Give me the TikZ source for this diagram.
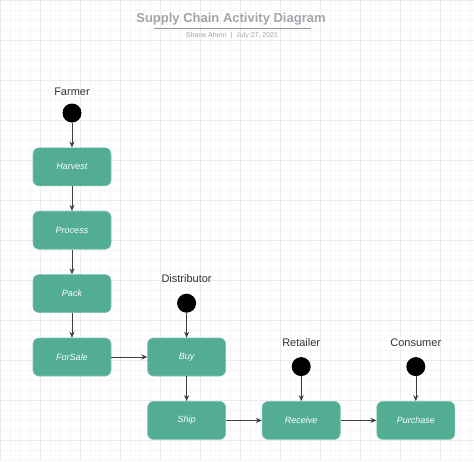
\documentclass[tikz,border=0pt]{standalone}
\usepackage{fontspec}
\setmainfont{Liberation Sans}
\usetikzlibrary{arrows.meta,positioning}
\definecolor{actgreen}{HTML}{52AD94}
\definecolor{titlegray}{HTML}{A2A5AA}
\tikzset{
  activity/.style={draw=actgreen!75!white, fill=actgreen, line width=0.6pt, rounded corners=6pt, minimum width=78pt, minimum height=38pt, align=center, text=white, font=\itshape\fontsize{9}{10}\selectfont},
  initial/.style={circle, fill=black, minimum size=19pt, inner sep=0pt},
  lane/.style={text=black!80, font=\fontsize{11}{13}\selectfont},
  flow/.style={-{Stealth[length=6pt,width=5pt]}, line width=0.6pt, draw=black!75}
}

\begin{document}
\begin{tikzpicture}[x=1pt, y=1pt, node distance=24.8pt and 36pt]
  \useasboundingbox (0,0) rectangle (474,-461);
  \fill[white] (0,0) rectangle (474,-461);
  \draw[step=10pt, black!4, line width=0.4pt] (0,0) grid (474,-461);
  \draw[step=40pt, black!8, line width=0.5pt] (0,0) grid (474,-461);

  % title
  \node[text=titlegray, font=\bfseries\fontsize{13}{15}\selectfont] (title) at (231,-19) {Supply Chain Activity Diagram};
  \draw[titlegray!90!black, line width=0.7pt] (154,-28) -- (311,-28);
  \node[text=titlegray, font=\fontsize{7}{8}\selectfont] (subtitle) at (232,-35.5) {Shane Ahern \ | \ July 27, 2021};

  % farmer
  \node[initial] (farmer0) at (72,-113) {};
  \node[lane, above=4pt of farmer0] (farmer) {Farmer};
  \node[activity, below=of farmer0] (harvest) {Harvest};
  \node[activity, below=of harvest] (process) {Process};
  \node[activity, below=of process] (pack) {Pack};
  \node[activity, below=of pack] (forsale) {ForSale};

  % distributor
  \node[activity, right=of forsale] (buy) {Buy};
  \node[activity, below=of buy] (ship) {Ship};
  \node[initial, above=of buy] (distributor0) {};
  \node[lane, above=7pt of distributor0] (distributor) {Distributor};

  % retailer and consumer
  \node[activity, right=of ship] (receive) {Receive};
  \node[activity, right=of receive] (purchase) {Purchase};
  \node[initial, above=of receive] (retailer0) {};
  \node[lane, above=7pt of retailer0] (retailer) {Retailer};
  \node[initial, above=of purchase] (consumer0) {};
  \node[lane, above=7pt of consumer0] (consumer) {Consumer};

  \draw[flow] (farmer0) -- (harvest);
  \draw[flow] (harvest) -- (process);
  \draw[flow] (process) -- (pack);
  \draw[flow] (pack) -- (forsale);
  \draw[flow] (forsale) -- (buy);
  \draw[flow] (distributor0) -- (buy);
  \draw[flow] (buy) -- (ship);
  \draw[flow] (ship) -- (receive);
  \draw[flow] (retailer0) -- (receive);
  \draw[flow] (receive) -- (purchase);
  \draw[flow] (consumer0) -- (purchase);
\end{tikzpicture}
\end{document}
